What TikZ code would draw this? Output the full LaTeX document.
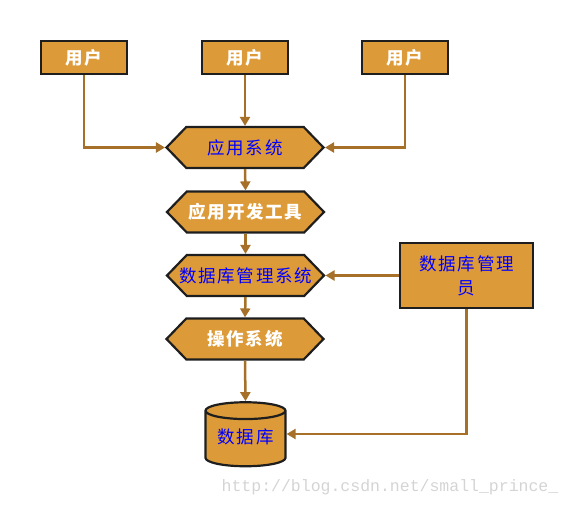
\documentclass[tikz,border=0pt]{standalone}
\usepackage{fontspec}
\newfontfamily\cjk[LetterSpace=10]{Noto Sans CJK SC}
\setmonofont{Liberation Mono}
\usetikzlibrary{shapes.symbols,shapes.geometric,arrows.meta}
\definecolor{boxfill}{RGB}{221,154,56}
\definecolor{linkcol}{RGB}{166,112,40}
\definecolor{edgecol}{RGB}{30,30,30}
\newcommand{\flatlabel}[1]{\makebox[0pt]{#1}}

\begin{document}
\begin{tikzpicture}[x=1pt,y=-1pt,
  box/.style={draw=edgecol,line width=2.2pt,fill=boxfill,inner sep=0pt},
  whitetext/.style={text=white,font=\cjk\fontsize{17.5}{24}\selectfont\bfseries},
  bluetext/.style={text=blue,font=\cjk\fontsize{17.5}{24}\selectfont},
  userbox/.style={box,whitetext,minimum width=86pt,minimum height=33pt},
  hexbox/.style={box,signal,signal to=west and east,signal pointer angle=92,minimum width=157pt,minimum height=41pt},
  link/.style={draw=linkcol,line width=2.5pt,-{Triangle[length=9pt,width=10pt]}}]
\useasboundingbox (0,0) rectangle (571,505);

\node[userbox] (user1) at (84,57.5) {用户};
\node[userbox] (user2) at (245,57.5) {用户};
\node[userbox] (user3) at (405,57.5) {用户};

\node[hexbox,bluetext] (app) at (245,147.5) {\flatlabel{应用系统}};
\node[hexbox,whitetext] (tool) at (245.5,212) {\flatlabel{应用开发工具}};
\node[hexbox,bluetext] (dbms) at (245.5,275.5) {\flatlabel{数据库管理系统}};
\node[hexbox,whitetext] (os) at (245,339) {\flatlabel{操作系统}};

\node[box,bluetext,minimum width=133pt,minimum height=65pt,align=center] (dba) at (466.5,275.5) {数据库管理\\员};
\node[box,bluetext,cylinder,shape border rotate=90,aspect=0.3,minimum width=80pt,minimum height=64pt] (db) at (245.5,439) {\raisebox{5pt}{数据库}};

\node[font=\ttfamily\fontsize{16.5}{18}\selectfont,text=black!17] (mark) at (390,487) {http://blog.csdn.net/small\_prince\_};
%---------------------------------------------------------------------------------------------------
\draw[link] (user1.south) |- (app.west);
\draw[link] (user2.south) -- (app.north);
\draw[link] (user3.south) |- (app.east);
\draw[link] (app.south) -- (tool.north);
\draw[link] (tool.south) -- (dbms.north);
\draw[link] (dbms.south) -- (os.north);
\draw[link] (os.south) -- (db.north);
\draw[link] (dba.west) -- (dbms.east);
\draw[link] (dba.south) |- ([yshift=5pt]db.east);
\end{tikzpicture}
\end{document}
